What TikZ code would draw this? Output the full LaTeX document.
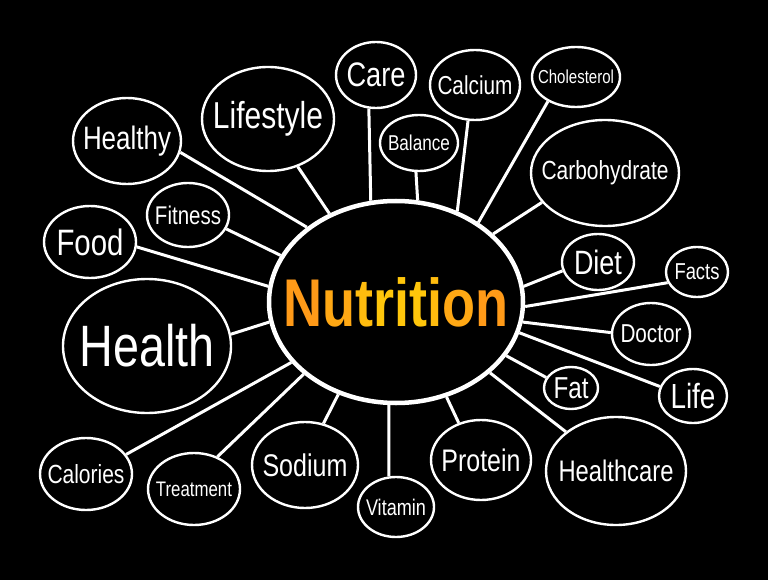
\documentclass[tikz,border=0pt]{standalone}
\usepackage{fontspec}
\setmainfont{Liberation Sans}
\usepackage{graphicx}
\usetikzlibrary{shapes.geometric}
\newcommand\lab[2]{\resizebox{#1pt}{!}{\scalebox{0.8}[1]{#2}}}
\definecolor{nA}{HTML}{FF9A18}
\definecolor{nB}{HTML}{FFA814}
\definecolor{nC}{HTML}{FFBC0E}
\definecolor{nD}{HTML}{FFC60B}
\tikzset{
  bub/.style={draw=white, line width=2.4pt, ellipse, inner sep=0pt, fill=black},
  hub/.style={draw=white, line width=4.5pt, ellipse, inner sep=0pt, fill=black},
  conn/.style={draw=white, line width=3pt},
  txt/.style={text=white, inner sep=0pt},
}
\begin{document}
\begin{tikzpicture}[x=1pt,y=-1pt]
\fill[black] (0,0) rectangle (768,580);
\useasboundingbox (0,0) rectangle (768,580);
% central
\node[hub, minimum width=254pt, minimum height=202pt] (nut) at (396,302) {};
\node[inner sep=0pt] (nuttext) at (396,302)
  {\resizebox{225pt}{!}{\scalebox{0.8}[1]{\bfseries\textcolor{nA}{N}\textcolor{nB}{u}\textcolor{nC}{t}\textcolor{nD}{r}\textcolor{nD}{i}\textcolor{nD}{t}\textcolor{nC}{i}\textcolor{nB}{o}\textcolor{nA}{n}}}};
% satellites
\node[bub, minimum width=108pt, minimum height=86pt] (healthy) at (127,141) {};
\node[txt] (t-healthy) at (healthy.center) {\lab{88}{Healthy}};
\node[bub, minimum width=132pt, minimum height=104pt] (lifestyle) at (268,119) {};
\node[txt] (t-lifestyle) at (lifestyle.center) {\lab{110}{Lifestyle}};
\node[bub, minimum width=80pt, minimum height=66pt] (care) at (376,75) {};
\node[txt] (t-care) at (care.center) {\lab{59}{Care}};
\node[bub, minimum width=78pt, minimum height=56pt] (balance) at (419,143) {};
\node[txt] (t-balance) at (balance.center) {\lab{62}{Balance}};
\node[bub, minimum width=90pt, minimum height=70pt] (calcium) at (475,85) {};
\node[txt] (t-calcium) at (calcium.center) {\lab{75}{Calcium}};
\node[bub, minimum width=88pt, minimum height=60pt] (cholesterol) at (576,77) {};
\node[txt] (t-cholesterol) at (cholesterol.center) {\lab{76}{Cholesterol}};
\node[bub, minimum width=148pt, minimum height=106pt] (carbo) at (605,173) {};
\node[txt] (t-carbo) at (carbo.center) {\lab{127}{Carbohydrate}};
\node[bub, minimum width=72pt, minimum height=56pt] (diet) at (598,262) {};
\node[txt] (t-diet) at (diet.center) {\lab{48}{Diet}};
\node[bub, minimum width=62pt, minimum height=50pt] (facts) at (697,272) {};
\node[txt] (t-facts) at (facts.center) {\lab{45}{Facts}};
\node[bub, minimum width=78pt, minimum height=62pt] (doctor) at (651,334) {};
\node[txt] (t-doctor) at (doctor.center) {\lab{61}{Doctor}};
\node[bub, minimum width=54pt, minimum height=42pt] (fat) at (571,388) {};
\node[txt] (t-fat) at (fat.center) {\lab{35}{Fat}};
\node[bub, minimum width=68pt, minimum height=54pt] (life) at (693,396) {};
\node[txt] (t-life) at (life.center) {\lab{45}{Life}};
\node[bub, minimum width=140pt, minimum height=108pt] (healthcare) at (616,471) {};
\node[txt] (t-healthcare) at (healthcare.center) {\lab{115}{Healthcare}};
\node[bub, minimum width=100pt, minimum height=80pt] (protein) at (481,460) {};
\node[txt] (t-protein) at (protein.center) {\lab{79}{Protein}};
\node[bub, minimum width=76pt, minimum height=60pt] (vitamin) at (396,507) {};
\node[txt] (t-vitamin) at (vitamin.center) {\lab{60}{Vitamin}};
\node[bub, minimum width=106pt, minimum height=86pt] (sodium) at (305,465) {};
\node[txt] (t-sodium) at (sodium.center) {\lab{85}{Sodium}};
\node[bub, minimum width=92pt, minimum height=72pt] (treatment) at (194,489) {};
\node[txt] (t-treatment) at (treatment.center) {\lab{76}{Treatment}};
\node[bub, minimum width=92pt, minimum height=72pt] (calories) at (86,474) {};
\node[txt] (t-calories) at (calories.center) {\lab{77}{Calories}};
\node[bub, minimum width=168pt, minimum height=134pt] (health) at (147,346) {};
\node[txt] (t-health) at (health.center) {\lab{135}{Health}};
\node[bub, minimum width=92pt, minimum height=72pt] (food) at (90,242) {};
\node[txt] (t-food) at (food.center) {\lab{67}{Food}};
\node[bub, minimum width=82pt, minimum height=64pt] (fitness) at (188,215) {};
\node[txt] (t-fitness) at (fitness.center) {\lab{66}{Fitness}};
% connectors
\draw[conn] (healthy.-12.8) -- (nut.140.7);
\draw[conn] (lifestyle.-58.9) -- (nut.127.2);
\draw[conn] (care.-102) -- (nut.104.7);
\draw[conn] (balance.-96) -- (nut.78.1);
\draw[conn] (calcium.-101) -- (nut.56.9);
\draw[conn] (cholesterol.-139) -- (nut.44.3);
\draw[conn] (carbo.-155.6) -- (nut.35.3);
\draw[conn] (diet.-166.8) -- (nut.7.6);
\draw[conn] (facts.-160) -- (nut.-2.2);
\draw[conn] (doctor.178.5) -- (nut.-9);
\draw[conn] (life.164) -- (nut.-14.8);
\draw[conn] (fat.157) -- (nut.-26);
\draw[conn] (healthcare.142.8) -- (nut.-37.5);
\draw[conn] (protein.121.9) -- (nut.-62.5);
\draw[conn] (vitamin.103.6) -- (nut.-94);
\draw[conn] (sodium.66.8) -- (nut.-122.7);
\draw[conn] (treatment.54.8) -- (nut.-142.5);
\draw[conn] (calories.26.6) -- (nut.-150.4);
\draw[conn] (health.8.7) -- (nut.-171);
\draw[conn] (food.-6.3) -- (nut.173);
\draw[conn] (fitness.-20.7) -- (nut.158.8);
\end{tikzpicture}
\end{document}
